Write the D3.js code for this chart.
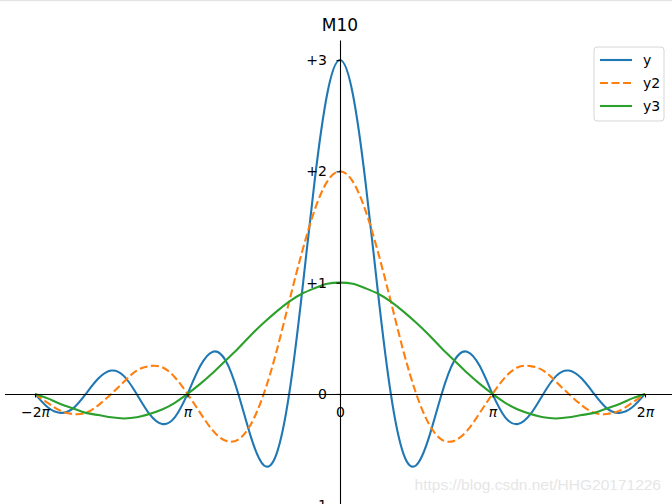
<!DOCTYPE html>
<html>
<head>
<meta charset="utf-8">
<script src="https://cdn.jsdelivr.net/npm/d3@7"></script>
<style>
  body { margin: 0; background: #fff; }
  text { font-family: "DejaVu Sans", sans-serif; }
</style>
</head>
<body>
<svg width="672" height="504"></svg>
<script>
// x grid: multiples of pi/12 from -2pi to 2pi
var xs = d3.range(-24, 25).map(k => k * Math.PI / 12);

// values
var yVals = [0.00, -0.12, -0.17, -0.13, 0.00, 0.14, 0.21, 0.16, 0.00, -0.18, -0.27, -0.21, 0.00, 0.25, 0.38, 0.30, 0.00, -0.39, -0.64, -0.54, 0.00, 0.90, 1.91, 2.70,
  3.00, 2.70, 1.91, 0.90, 0.00, -0.54, -0.64, -0.39, 0.00, 0.30, 0.38, 0.25, 0.00, -0.21, -0.27, -0.18, 0.00, 0.16, 0.21, 0.14, 0.00, -0.13, -0.17, -0.12, 0.00];
var y2Vals = [0.00, -0.08, -0.15, -0.18, -0.17, -0.10, 0.00, 0.11, 0.21, 0.25, 0.24, 0.15, 0.00, -0.17, -0.33, -0.42, -0.41, -0.27, 0.00, 0.38, 0.83, 1.27, 1.65, 1.91,
  2.00, 1.91, 1.65, 1.27, 0.83, 0.38, 0.00, -0.27, -0.41, -0.42, -0.33, -0.17, 0.00, 0.15, 0.24, 0.25, 0.21, 0.11, 0.00, -0.10, -0.17, -0.18, -0.15, -0.08, 0.00];
var y3Vals = [0.00, -0.04, -0.09, -0.13, -0.17, -0.19, -0.21, -0.22, -0.21, -0.18, -0.14, -0.08, 0.00, 0.09, 0.19, 0.30, 0.41, 0.53, 0.64, 0.74, 0.83, 0.90, 0.95, 0.99,
  1.00, 0.99, 0.95, 0.90, 0.83, 0.74, 0.64, 0.53, 0.41, 0.30, 0.19, 0.09, 0.00, -0.08, -0.14, -0.18, -0.21, -0.22, -0.21, -0.19, -0.17, -0.13, -0.09, -0.04, 0.00];

var seriesNames = ['y', 'y2', 'y3'];
var seriesColors = ['#1f77b4', '#ff7f0e', '#2ca02c'];
var seriesDash = [null, '8,3.5', null];

var xTickVals = [-2 * Math.PI, -Math.PI, 0, Math.PI, 2 * Math.PI];
var xTickLabels = [['−2', 'π'], ['', 'π'], ['0', ''], ['', 'π'], ['2', 'π']];
var yTickVals = [-1, 0, 1, 2, 3];
var yTickLabels = ['-1', '0', '+1', '+2', '+3'];

var svg = d3.select('svg');

// faint border line at top of the screenshot
svg.append('rect').attr('x', 0).attr('y', 0).attr('width', 672).attr('height', 1.2).attr('fill', '#e4e4e4');

var x = d3.scaleLinear().domain([-2.2 * Math.PI, 2.2 * Math.PI]).range([4.5, 675.5]);
var y = d3.scaleLinear().domain([-1.2, 3.18]).range([527.5, 40]);

var line = d3.line().x((d, i) => x(xs[i])).y(d => y(d)).curve(d3.curveNatural);

var allSeries = [yVals, y2Vals, y3Vals];
svg.selectAll('path.series')
  .data(allSeries)
  .enter().append('path')
  .attr('class', 'series')
  .attr('d', d => line(d))
  .attr('fill', 'none')
  .attr('stroke', (d, i) => seriesColors[i])
  .attr('stroke-width', 2.1)
  .attr('stroke-dasharray', (d, i) => seriesDash[i]);

// x axis through y = 0
var xAxis = svg.append('g')
  .attr('transform', 'translate(0,' + y(0) + ')')
  .call(d3.axisBottom(x).tickValues(xTickVals).tickSize(3.5).tickSizeOuter(0).tickFormat(''));
xAxis.select('.domain').attr('stroke', '#000').attr('stroke-width', 1.1);
xAxis.selectAll('.tick line').attr('stroke', '#000').attr('stroke-width', 1.1);
xAxis.selectAll('.tick').each(function (d, i) {
  var t = d3.select(this).append('text')
    .attr('y', 23)
    .attr('fill', '#000')
    .attr('text-anchor', 'middle')
    .style('font-size', '14px')
    .style('font-family', '"DejaVu Sans", sans-serif');
  t.append('tspan').text(xTickLabels[i][0]);
  t.append('tspan').attr('font-style', 'italic').text(xTickLabels[i][1]);
});

// y axis through x = 0
var yAxis = svg.append('g')
  .attr('transform', 'translate(' + x(0) + ',0)')
  .call(d3.axisLeft(y).tickValues(yTickVals).tickSize(3.5).tickSizeOuter(0)
    .tickFormat((d, i) => yTickLabels[i]));
yAxis.select('.domain').attr('stroke', '#000').attr('stroke-width', 1.1);
yAxis.selectAll('.tick line').attr('stroke', '#000').attr('stroke-width', 1.1);
yAxis.selectAll('.tick text')
  .attr('x', -13)
  .attr('dy', '0.32em')
  .attr('fill', '#000')
  .style('font-size', '14px')
  .style('font-family', '"DejaVu Sans", sans-serif');

// title
svg.append('text')
  .attr('x', x(0)).attr('y', 31)
  .attr('text-anchor', 'middle')
  .style('font-size', '17px')
  .text('M10');

// legend
var legend = svg.append('g').attr('transform', 'translate(594,47)');
legend.append('rect')
  .attr('width', 70).attr('height', 74)
  .attr('rx', 3).attr('ry', 3)
  .attr('fill', '#fff').attr('fill-opacity', 0.8)
  .attr('stroke', '#d6d6d6').attr('stroke-width', 1);
var items = legend.selectAll('g.item')
  .data(seriesNames)
  .enter().append('g')
  .attr('class', 'item')
  .attr('transform', (d, i) => 'translate(0,' + (13 + i * 23) + ')');
items.append('line')
  .attr('x1', 6).attr('x2', 38)
  .attr('stroke', (d, i) => seriesColors[i])
  .attr('stroke-width', 2.1)
  .attr('stroke-dasharray', (d, i) => seriesDash[i]);
items.append('text')
  .attr('x', 49).attr('y', 5)
  .style('font-size', '14px')
  .text(d => d);

// watermark
svg.append('text')
  .attr('x', 661).attr('y', 490)
  .attr('text-anchor', 'end')
  .attr('fill', '#e6e6e6')
  .style('font-family', '"Liberation Sans", Arial, sans-serif')
  .style('font-size', '15.5px')
  .text('https://blog.csdn.net/HHG20171226');
</script>
</body>
</html>
